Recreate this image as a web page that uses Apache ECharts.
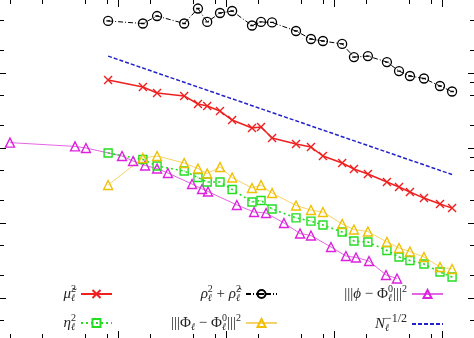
<!DOCTYPE html>
<html>
<head>
<meta charset="utf-8">
<script src="https://cdn.jsdelivr.net/npm/echarts@6/dist/echarts.min.js"></script>
<style>
  html, body { margin: 0; padding: 0; background: #fff; }
  #chart { width: 474px; height: 338px; }
</style>
</head>
<body>
<div id="chart"></div>
<script>
// Samples per level (abscissa of the level-wise quantities)
const nLevel = [81, 170, 230, 410, 550, 670, 880, 1140, 1740, 2110, 2670, 4450, 6120,
                7900, 11900, 15300, 20600, 30900, 40000, 50500, 68100, 95800, 124000];
// Abscissa of the global error |||phi - Phi^0_l|||^2
const nLevelPhi = [10, 40, 50.5, 109, 138, 178, 230, 290, 485, 600, 681, 1260, 1820,
                   2350, 3440, 4850, 6120, 9380, 12900, 16000, 21100, 30300, 38300];

const muTilde2 = [0.0807, 0.0651, 0.0541, 0.0494, 0.0386, 0.0363, 0.0311, 0.0236, 0.0185,
                  0.0191, 0.0136, 0.0113, 0.0103, 0.00782, 0.00631, 0.00525, 0.00450,
                  0.00352, 0.00302, 0.00259, 0.00215, 0.00179, 0.00158];
const rhoSum = [0.494, 0.457, 0.575, 0.457, 0.724, 0.479, 0.631, 0.671, 0.430, 0.479,
                0.472, 0.363, 0.284, 0.267, 0.244, 0.163, 0.168, 0.140, 0.106, 0.0912,
                0.0845, 0.0671, 0.0567];
const eta2 = [0.00858, 0.00703, 0.00575, 0.00494, 0.00404, 0.00352, 0.00352, 0.00280,
              0.00191, 0.00200, 0.00154, 0.00117, 0.00106, 0.000941, 0.000759, 0.000575,
              0.000558, 0.000430, 0.000352, 0.000316, 0.000284, 0.000222, 0.000191];
const errPhiLevel = [0.00321, 0.00736, 0.00782, 0.00631, 0.00533, 0.00457, 0.00558,
                     0.00404, 0.00293, 0.00321, 0.00251, 0.00171, 0.00149, 0.00140,
                     0.000970, 0.000819, 0.000770, 0.000558, 0.000464, 0.000417,
                     0.000352, 0.000259, 0.000244];
const errPhi = [0.0118, 0.0105, 0.0100, 0.00782, 0.00671, 0.00585, 0.00533, 0.00464,
                0.00331, 0.00284, 0.00263, 0.00174, 0.00140, 0.00136, 0.00100, 0.000724,
                0.000681, 0.000479, 0.000363, 0.000347, 0.000311, 0.000203, 0.000182];
// Reference slope N^{-1/2}: end points of the guide line
const refN = [81, 124000];
const refRate = [0.168, 0.00443];

// Tick positions
const xMajorTicks = [100, 1000, 10000, 100000];
const xMinorTicks = [10, 20, 50, 80, 200, 500, 800, 2000, 5000, 8000, 20000, 50000, 80000];
const yMajorTicks = [1e-4, 1e-3, 1e-2, 1e-1];
const yMinorTicks = [5e-5, 2e-4, 5e-4, 2e-3, 5e-3, 2e-2, 5e-2, 0.2, 0.5];
const yRightExtraTicks = [0.0076, 0.076];

const X_MIN = 8.08, X_MAX = 197860;
const Y_MIN = 2.93e-5, Y_MAX = 0.9404;

const pairs = (xs, ys) => xs.map((x, i) => [x, ys[i]]);

function xAxis(position, ticks, len) {
  return {
    type: 'log', logBase: 10, min: X_MIN, max: X_MAX, position,
    axisLine: { show: false, onZero: false },
    axisLabel: { show: false }, splitLine: { show: false },
    axisTick: { show: true, inside: true, length: len, customValues: ticks,
                lineStyle: { color: '#000', width: 1 } }
  };
}
function yAxis(position, ticks, len) {
  return {
    type: 'log', logBase: 10, min: Y_MIN, max: Y_MAX, position,
    axisLine: { show: false, onZero: false },
    axisLabel: { show: false }, splitLine: { show: false },
    axisTick: { show: true, inside: true, length: len, customValues: ticks,
                lineStyle: { color: '#000', width: 1 } }
  };
}

const SYM_CROSS = 'path://M0,0L10,10M10,0L0,10';
const SYM_CIRCLE = 'path://M0,5A5,5,0,1,1,10,5A5,5,0,1,1,0,5ZM3,5L7,5';
const SYM_SQUARE = 'path://M0,0L10,0L10,10L0,10ZM4.6,5L5.4,5';
const NONE = 'rgba(0,0,0,0)';

// Math-style legend labels: zero-width subscripts let the superscript stack above them
const serif = '"Liberation Serif", "DejaVu Serif", serif';
const ink = '#262626';
const rich = {
  i:  { fontFamily: serif, fontStyle: 'italic', fontSize: 15, color: ink, align: 'left' },
  r:  { fontFamily: serif, fontSize: 15, color: ink, align: 'left' },
  sb: { fontFamily: serif, fontStyle: 'italic', fontSize: 10, color: ink, align: 'left',
        padding: [8, 0, 0, 0], width: 0 },
  sw: { fontFamily: serif, fontStyle: 'italic', fontSize: 10, color: ink, align: 'left',
        padding: [8, 0, 0, 0] },
  sp: { fontFamily: serif, fontSize: 10, color: ink, align: 'left', padding: [0, 0, 10, 0] },
  sq: { fontFamily: serif, fontSize: 12, color: ink, align: 'left', padding: [0, 0, 10, 0] }
};
const labels = {
  mu:   '{i|μ\u0303}{sb|ℓ}{sp|2}',
  rho:  '{i|ρ}{sb|ℓ}{sp|2}{r| + }{i|ρ\u0302}{sb|ℓ}{sp|2}',
  phi:  '{r||||}{i|ϕ}{r| − Φ}{sb|ℓ}{sp|0}{r||||}{sp|2}',
  eta:  '{i|η}{sb|ℓ}{sp|2}',
  phiL: '{r||||Φ}{sw|ℓ}{r| − Φ}{sb|ℓ}{sp|0}{r||||}{sp|2}',
  ref:  '{i|N}{sb|ℓ}{sq|−1/2}'
};

function legend(name, right, top, extra) {
  return Object.assign({
    data: [name], right, top, padding: 0, align: 'right', orient: 'horizontal',
    itemWidth: 31, itemHeight: 10, selectedMode: false,
    formatter: n => labels[n],
    textStyle: { rich }
  }, extra || {});
}

const chart = echarts.init(document.getElementById('chart'), null, { renderer: 'canvas' });
chart.setOption({
  animation: false,
  backgroundColor: '#fff',
  grid: { left: 0, right: 0, top: 0, bottom: 0, containLabel: false },
  xAxis: [
    xAxis('bottom', xMajorTicks, 7), xAxis('bottom', xMinorTicks, 4),
    xAxis('top', xMajorTicks, 7), xAxis('top', xMinorTicks, 4)
  ],
  yAxis: [
    yAxis('left', yMajorTicks, 6), yAxis('left', yMinorTicks, 4),
    yAxis('right', yMajorTicks, 6), yAxis('right', yMinorTicks.concat(yRightExtraTicks), 4)
  ],
  legend: [
    legend('mu', 361, 284), legend('rho', 196, 284), legend('phi', 30, 284),
    legend('eta', 361, 313), legend('phiL', 196, 313),
    legend('ref', 30, 313, { itemStyle: { color: NONE, borderColor: NONE, borderWidth: 0, opacity: 0 } })
  ],
  series: [
    {
      name: 'mu', type: 'line', data: pairs(nLevel, muTilde2),
      symbol: SYM_CROSS, symbolSize: 8,
      lineStyle: { color: '#ee2020', width: 1.5 },
      itemStyle: { color: NONE, borderColor: '#ee2020', borderWidth: 1.4 }
    },
    {
      name: 'rho', type: 'line', data: pairs(nLevel, rhoSum),
      symbol: SYM_CIRCLE, symbolSize: 9,
      lineStyle: { color: '#000', width: 1, type: [5, 2, 1, 2] },
      itemStyle: { color: NONE, borderColor: '#000', borderWidth: 1.3 }
    },
    {
      name: 'phi', type: 'line', data: pairs(nLevelPhi, errPhi),
      symbol: 'triangle', symbolSize: 9,
      lineStyle: { color: '#e466e4', width: 1 },
      itemStyle: { color: NONE, borderColor: '#dd22dd', borderWidth: 1.4 }
    },
    {
      name: 'eta', type: 'line', data: pairs(nLevel, eta2),
      symbol: SYM_SQUARE, symbolSize: 8,
      lineStyle: { color: '#22dd22', width: 1.5, type: [2, 3] },
      itemStyle: { color: NONE, borderColor: '#22dd22', borderWidth: 1.4 }
    },
    {
      name: 'phiL', type: 'line', data: pairs(nLevel, errPhiLevel),
      symbol: 'triangle', symbolSize: 9,
      lineStyle: { color: '#f6d36a', width: 1 },
      itemStyle: { color: NONE, borderColor: '#f0c000', borderWidth: 1.4 }
    },
    {
      name: 'ref', type: 'line', data: pairs(refN, refRate),
      symbol: 'none',
      lineStyle: { color: '#2222cc', width: 1.5, type: [4, 2] }
    }
  ]
});
</script>
</body>
</html>
